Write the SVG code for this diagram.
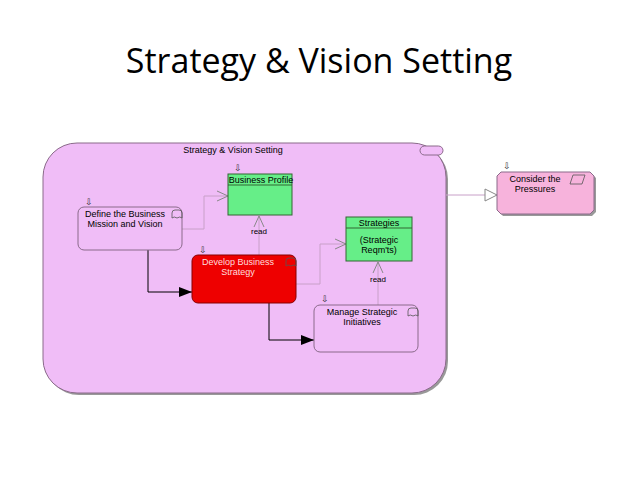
<svg xmlns="http://www.w3.org/2000/svg" width="638" height="478" viewBox="0 0 638 478">
<style>
text{font-family:"Liberation Sans",Arial,sans-serif;font-size:9px;fill:#000}
.c{fill:none;stroke:#c8a0c8;stroke-width:1}
.k{fill:none;stroke:#000;stroke-width:1}
.ico{fill:none;stroke:#555;stroke-width:0.8}
.dn{font-size:9px;fill:#333}
</style>
<defs>
<marker id="open" markerWidth="12" markerHeight="12" refX="11" refY="6" orient="auto" markerUnits="userSpaceOnUse"><path d="M0,1 L11,6 L0,11" fill="none" stroke="#888"/></marker>
<marker id="fill" markerWidth="14" markerHeight="10" refX="13" refY="5" orient="auto" markerUnits="userSpaceOnUse"><path d="M0,0 L13,5 L0,10Z" fill="#000"/></marker>
<marker id="tri" markerWidth="14" markerHeight="14" refX="13" refY="7" orient="auto" markerUnits="userSpaceOnUse"><path d="M1,1 L13,7 L1,13Z" fill="#fff" stroke="#888"/></marker>
</defs>
<rect width="638" height="478" fill="#fff"/>
<text x="319" y="73" text-anchor="middle" style="font-size:34px;font-family:'Open Sans','Liberation Sans',sans-serif">Strategy &amp; Vision Setting</text>
<g id="container">
<rect x="45" y="145" width="403" height="250" rx="34" fill="#999"/>
<rect x="43" y="143" width="403" height="250" rx="34" fill="#f0bdf7" stroke="#8a6a8a"/>
<rect x="420" y="146" width="23" height="9" rx="4.5" fill="#f0bdf7" stroke="#8a6a8a"/>
<text x="233" y="153" text-anchor="middle">Strategy &amp; Vision Setting</text>
</g>
<g id="connectors">
<polyline class="c" points="182,229 204,229 204,196 228,196" marker-end="url(#open)"/>
<polyline class="c" points="259,255 259,216" marker-end="url(#open)"/>
<text x="259" y="234" text-anchor="middle" style="font-size:8px">read</text>
<polyline class="c" points="296,284 320,284 320,244 346,244" marker-end="url(#open)"/>
<polyline class="c" points="378,305 378,262" marker-end="url(#open)"/>
<text x="378" y="282" text-anchor="middle" style="font-size:8px">read</text>
<polyline class="k" points="148,250 148,292 192,292" marker-end="url(#fill)"/>
<polyline class="k" points="269,303 269,340 314,340" marker-end="url(#fill)"/>
<polyline class="c" points="446,195 497,195" stroke="#ccc" marker-end="url(#tri)"/>
</g>
<g id="business-profile">
<text class="dn" x="238" y="171" text-anchor="middle">⇩</text>
<rect x="228" y="174" width="64" height="41" fill="#66ee88" stroke="#336633"/>
<line x1="228" y1="185" x2="292" y2="185" stroke="#336633"/>
<text x="261" y="182.5" text-anchor="middle">Business Profile</text>
</g>
<g id="define">
<text class="dn" x="89" y="205" text-anchor="middle">⇩</text>
<rect x="78" y="207" width="104" height="43" rx="6" fill="#f0bdf7" stroke="#8a6a8a"/>
<text x="125" y="217" text-anchor="middle">Define the Business</text>
<text x="125" y="227" text-anchor="middle">Mission and Vision</text>
<path class="ico" d="M172,218 v-5 q0,-3 3,-3 h4 q3,0 3,3 v5 q-2,-2 -5,0 q-3,-2 -5,0z"/>
</g>
<g id="develop">
<text class="dn" x="203" y="253" text-anchor="middle">⇩</text>
<rect x="192" y="255" width="104" height="48" rx="6" fill="#ee0000" stroke="#880000"/>
<text x="238" y="265" text-anchor="middle" style="fill:#ffdddd">Develop Business</text>
<text x="238" y="275" text-anchor="middle" style="fill:#ffdddd">Strategy</text>
<path class="ico" d="M286,266 v-5 q0,-3 3,-3 h4 q3,0 3,3 v5 q-2,-2 -5,0 q-3,-2 -5,0z" stroke="#880000"/>
</g>
<g id="strategies">
<rect x="346" y="217" width="66" height="44" fill="#66ee88" stroke="#336633"/>
<line x1="346" y1="228" x2="412" y2="228" stroke="#336633"/>
<text x="379" y="225.5" text-anchor="middle">Strategies</text>
<text x="379" y="243" text-anchor="middle">(Strategic</text>
<text x="379" y="253" text-anchor="middle">Reqm'ts)</text>
</g>
<g id="manage">
<text class="dn" x="325" y="302" text-anchor="middle">⇩</text>
<rect x="314" y="305" width="104" height="47" rx="6" fill="#f0bdf7" stroke="#8a6a8a"/>
<text x="362" y="315" text-anchor="middle">Manage Strategic</text>
<text x="362" y="325" text-anchor="middle">Initiatives</text>
<path class="ico" d="M408,316 v-5 q0,-3 3,-3 h4 q3,0 3,3 v5 q-2,-2 -5,0 q-3,-2 -5,0z"/>
</g>
<g id="consider">
<text class="dn" x="507" y="169" text-anchor="middle">⇩</text>
<path d="M503,174 h89 l4,4 v34 l-4,4 h-89 l-4,-4 v-34z" fill="#999"/>
<path d="M501,172 h89 l4,4 v34 l-4,4 h-89 l-4,-4 v-34z" fill="#f7b3dc" stroke="#8a6a8a"/>
<text x="535" y="182" text-anchor="middle">Consider the</text>
<text x="535" y="192" text-anchor="middle">Pressures</text>
<path class="ico" d="M573,175 h12 l-3,9 h-12z"/>
</g>
</svg>
